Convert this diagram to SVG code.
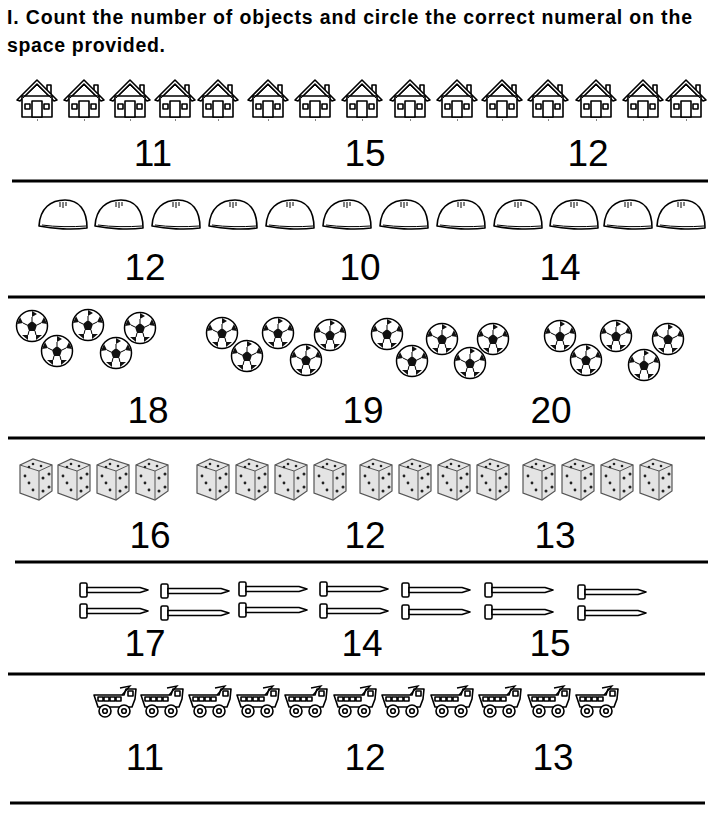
<svg xmlns="http://www.w3.org/2000/svg" xmlns:xlink="http://www.w3.org/1999/xlink" width="719" height="813" viewBox="0 0 719 813">
<style>
.t{font-family:"Liberation Sans",Arial,sans-serif;font-weight:bold;font-size:19.5px;fill:#000}
.n{font-family:"Liberation Sans",Arial,sans-serif;font-size:37px;fill:#000;text-anchor:middle}
.rule{stroke:#000;stroke-width:3}
.o{fill:#fff;stroke:#000;stroke-width:1.6;stroke-linejoin:round}
</style>
<defs>
<g id="house">
<rect x="10" y="7" width="4" height="9" class="o"/>
<path d="M-20 22 L0 2 L20 22 L17 23 L0 6 L-17 23 Z" class="o"/>
<rect x="-15" y="18" width="30" height="21" class="o"/>
<path d="M-14 20 L0 7 L14 20" fill="none" stroke="#000" stroke-width="1"/>
<rect x="-5" y="23" width="10" height="16" class="o"/>
<rect x="-12" y="26" width="5" height="5" class="o"/>
<rect x="7" y="26" width="5" height="5" class="o"/>
<line x1="0" y1="42" x2="1" y2="42" stroke="#000"/>
</g>
<g id="helmet">
<path d="M-24 30 C-23 12 -12 4 2 4 C16 4 24 14 24 32 C10 34 -10 33 -24 30 Z" class="o" stroke-width="2.4"/>
<path d="M-21 29 C-8 31 10 31 23 30" fill="none" stroke="#000" stroke-width="1"/>
<path d="M-3 6 V11 M0 6 V12 M3 6 V10" stroke="#000" stroke-width="1"/>
</g>
<g id="ball">
<circle r="15.5" fill="#fff" stroke="#000" stroke-width="1.5"/>
<polygon points="0,-5 5,-1 3,5 -3,5 -5,-1" fill="#111"/>
<path d="M0 -15 L0 -9 L5 -12 Z M12 -9 L15 -2 L9 -3 Z M10 9 L4 14 L4 9 Z M-10 9 L-4 14 L-4 9 Z M-12 -9 L-15 -2 L-9 -3 Z" fill="#111"/>
<path d="M0 -5 V-9 M5 -1 L9 -3 M3 5 L4 9 M-3 5 L-4 9 M-5 -1 L-9 -3" stroke="#000" stroke-width="1"/>
</g>
<g id="die">
<path d="M-16 -14 L-3 -20 L16 -14 L16 12 L3 21 L-16 14 Z" fill="#e4e4e4" stroke="#555" stroke-width="1.2"/>
<path d="M-16 -14 L3 -8 L16 -14 M3 -8 V21" fill="none" stroke="#555" stroke-width="1"/>
<g fill="#222"><circle cx="-3" cy="-15" r="1.3"/><circle cx="5" cy="-13" r="1.3"/><circle cx="-7" cy="-12" r="1.3"/>
<circle cx="-11" cy="-3" r="1.4"/><circle cx="-7" cy="4" r="1.4"/><circle cx="-3" cy="11" r="1.4"/>
<circle cx="7" cy="-1" r="1.5"/><circle cx="13" cy="-5" r="1.5"/><circle cx="7" cy="12" r="1.5"/><circle cx="13" cy="8" r="1.5"/></g>
</g>
<g id="nail">
<rect x="0" y="-7" width="7" height="14" rx="1.5" class="o" stroke-width="1.4"/>
<path d="M7 -2.5 H60 L68 0 L60 2.5 H7 Z" class="o" stroke-width="1.4"/>
</g>
<g id="truck">
<path d="M-20 -8 L10 -8 L12 -14 L22 -14 L21 -4 L18 4 L-16 4 Z" class="o" stroke-width="1.3"/>
<path d="M8 -8 L16 -17 L6 -15" fill="none" stroke="#000" stroke-width="1.3"/>
<rect x="-16" y="-6" width="5" height="4" class="o" stroke-width="1"/><rect x="-10" y="-6" width="5" height="4" class="o" stroke-width="1"/><rect x="-4" y="-6" width="5" height="4" class="o" stroke-width="1"/><rect x="2" y="-6" width="5" height="4" class="o" stroke-width="1"/>
<rect x="14" y="-12" width="5" height="5" class="o" stroke-width="1"/>
<circle cx="-9" cy="8" r="6" class="o" stroke-width="1.5"/><circle cx="-9" cy="8" r="2.3" class="o" stroke-width="1"/>
<circle cx="10" cy="8" r="6" class="o" stroke-width="1.5"/><circle cx="10" cy="8" r="2.3" class="o" stroke-width="1"/>
</g>
</defs>

<text class="t" x="7" y="24" textLength="685" lengthAdjust="spacing">I. Count the number of objects and circle the correct numeral on the</text>
<text class="t" x="7" y="52" textLength="158" lengthAdjust="spacing">space provided.</text>

<g id="houses">
<use href="#house" x="37" y="78"/><use href="#house" x="84" y="78"/><use href="#house" x="130" y="78"/><use href="#house" x="175" y="78"/><use href="#house" x="218" y="78"/>
<use href="#house" x="268" y="78"/><use href="#house" x="315" y="78"/><use href="#house" x="362" y="78"/><use href="#house" x="410" y="78"/><use href="#house" x="457" y="78"/>
<use href="#house" x="502" y="78"/><use href="#house" x="548" y="78"/><use href="#house" x="596" y="78"/><use href="#house" x="643" y="78"/><use href="#house" x="686" y="78"/>
</g>
<text class="n" x="153" y="166">11</text><text class="n" x="365" y="166">15</text><text class="n" x="588" y="166">12</text>
<line class="rule" x1="12" y1="181" x2="708" y2="181"/>

<g id="helmets">
<use href="#helmet" x="63" y="196"/><use href="#helmet" x="119" y="196"/><use href="#helmet" x="176" y="196"/><use href="#helmet" x="233" y="196"/><use href="#helmet" x="290" y="196"/><use href="#helmet" x="347" y="196"/>
<use href="#helmet" x="404" y="196"/><use href="#helmet" x="461" y="196"/><use href="#helmet" x="518" y="196"/><use href="#helmet" x="574" y="196"/><use href="#helmet" x="628" y="196"/><use href="#helmet" x="681" y="196"/>
</g>
<text class="n" x="145" y="280">12</text><text class="n" x="360" y="280">10</text><text class="n" x="560" y="280">14</text>
<line class="rule" x1="8" y1="297" x2="705" y2="297"/>

<g id="balls">
<use href="#ball" x="32" y="326"/><use href="#ball" x="88" y="325"/><use href="#ball" x="140" y="328"/><use href="#ball" x="57" y="351"/><use href="#ball" x="116" y="353"/>
<use href="#ball" x="222" y="333"/><use href="#ball" x="278" y="333"/><use href="#ball" x="330" y="335"/><use href="#ball" x="247" y="356"/><use href="#ball" x="306" y="360"/>
<use href="#ball" x="387" y="334"/><use href="#ball" x="442" y="339"/><use href="#ball" x="493" y="339"/><use href="#ball" x="412" y="361"/><use href="#ball" x="470" y="363"/>
<use href="#ball" x="560" y="336"/><use href="#ball" x="616" y="336"/><use href="#ball" x="668" y="339"/><use href="#ball" x="586" y="360"/><use href="#ball" x="644" y="365"/>
</g>
<text class="n" x="148" y="423">18</text><text class="n" x="363" y="423">19</text><text class="n" x="551" y="423">20</text>
<line class="rule" x1="8" y1="438" x2="705" y2="438"/>

<g id="dice">
<use href="#die" x="36" y="479"/><use href="#die" x="74" y="479"/><use href="#die" x="113" y="479"/><use href="#die" x="152" y="479"/>
<use href="#die" x="213" y="479"/><use href="#die" x="252" y="479"/><use href="#die" x="291" y="479"/><use href="#die" x="330" y="479"/>
<use href="#die" x="376" y="479"/><use href="#die" x="415" y="479"/><use href="#die" x="454" y="479"/><use href="#die" x="493" y="479"/>
<use href="#die" x="539" y="479"/><use href="#die" x="578" y="479"/><use href="#die" x="617" y="479"/><use href="#die" x="656" y="479"/>
</g>
<text class="n" x="150" y="548">16</text><text class="n" x="365" y="548">12</text><text class="n" x="555" y="548">13</text>
<line class="rule" x1="15" y1="562" x2="708" y2="562"/>

<g id="nails">
<use href="#nail" x="80" y="590"/><use href="#nail" x="80" y="611"/>
<use href="#nail" x="161" y="591"/><use href="#nail" x="161" y="613"/>
<use href="#nail" x="239" y="589"/><use href="#nail" x="239" y="610"/>
<use href="#nail" x="320" y="589"/><use href="#nail" x="320" y="611"/>
<use href="#nail" x="402" y="590"/><use href="#nail" x="402" y="612"/>
<use href="#nail" x="485" y="590"/><use href="#nail" x="485" y="612"/>
<use href="#nail" x="578" y="592"/><use href="#nail" x="578" y="613"/>
</g>
<text class="n" x="145" y="656">17</text><text class="n" x="362" y="656">14</text><text class="n" x="550" y="656">15</text>
<line class="rule" x1="8" y1="674" x2="705" y2="674"/>

<g id="trucks">
<use href="#truck" x="114" y="703"/><use href="#truck" x="161" y="703"/><use href="#truck" x="209" y="703"/><use href="#truck" x="257" y="703"/><use href="#truck" x="305" y="703"/>
<use href="#truck" x="354" y="703"/><use href="#truck" x="402" y="703"/><use href="#truck" x="451" y="703"/><use href="#truck" x="499" y="703"/><use href="#truck" x="548" y="703"/><use href="#truck" x="596" y="703"/>
</g>
<text class="n" x="145" y="770">11</text><text class="n" x="365" y="770">12</text><text class="n" x="553" y="770">13</text>
<line class="rule" x1="10" y1="803" x2="705" y2="803"/>
</svg>
